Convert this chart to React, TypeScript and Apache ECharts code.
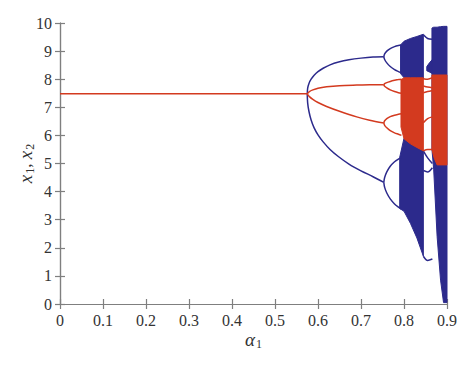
import React, { useEffect, useRef } from "react";
import * as echarts from "echarts";

// ---------- data ----------
const xTicks = [0, 0.1, 0.2, 0.3, 0.4, 0.5, 0.6, 0.7, 0.8, 0.9];
const yTicks = [0, 1, 2, 3, 4, 5, 6, 7, 8, 9, 10];

// period-1 fixed point (x1 = x2)
const fixedA = [0, 0.575];
const fixedY = [7.48, 7.48];

// period-2 branches
const blueP2UpA = [0.575, 0.576, 0.579, 0.584, 0.591, 0.6, 0.612, 0.628, 0.648, 0.672, 0.7, 0.728, 0.753];
const blueP2UpY = [7.48, 7.68, 7.85, 8.0, 8.14, 8.27, 8.39, 8.51, 8.61, 8.69, 8.75, 8.79, 8.8];
const blueP2LoA = [0.575, 0.576, 0.579, 0.584, 0.591, 0.6, 0.612, 0.628, 0.648, 0.672, 0.7, 0.728, 0.753];
const blueP2LoY = [7.48, 7.15, 6.85, 6.55, 6.27, 6.02, 5.77, 5.5, 5.24, 4.98, 4.74, 4.53, 4.33];
const redP2UpA = [0.575, 0.58, 0.588, 0.6, 0.62, 0.65, 0.69, 0.72, 0.753];
const redP2UpY = [7.48, 7.56, 7.62, 7.68, 7.73, 7.77, 7.79, 7.8, 7.8];
const redP2LoA = [0.575, 0.58, 0.588, 0.6, 0.62, 0.65, 0.69, 0.72, 0.753];
const redP2LoY = [7.48, 7.38, 7.28, 7.17, 7.03, 6.86, 6.66, 6.54, 6.44];

// period-4 bubbles
const bubbleA = [0.753, 0.755, 0.76, 0.768, 0.778, 0.787, 0.794];
const blueB1UpY = [8.8, 8.9, 9.0, 9.09, 9.16, 9.2, 9.22];
const blueB1LoY = [8.8, 8.7, 8.58, 8.45, 8.34, 8.27, 8.22];
const redB1UpY = [7.8, 7.84, 7.88, 7.92, 7.96, 7.99, 8.0];
const redB1LoY = [7.8, 7.75, 7.69, 7.62, 7.56, 7.52, 7.5];
const redB2UpY = [6.44, 6.52, 6.6, 6.67, 6.72, 6.75, 6.77];
const redB2LoY = [6.44, 6.36, 6.27, 6.17, 6.09, 6.04, 6.0];
const blueB2UpY = [4.33, 4.5, 4.7, 4.9, 5.06, 5.16, 5.22];
const blueB2LoY = [4.33, 4.15, 3.95, 3.74, 3.56, 3.45, 3.38];

// chaotic bands (alpha, lower edge, upper edge)
const blueTopBandA = [0.792, 0.8, 0.815, 0.83, 0.845];
const blueTopBandLo = [8.2, 8.05, 8.0, 8.0, 8.0];
const blueTopBandHi = [9.22, 9.35, 9.45, 9.52, 9.6];

const redLeftBandA = [0.793, 0.8, 0.815, 0.83, 0.845];
const redLeftBandLo = [6.3, 5.88, 5.7, 5.57, 5.45];
const redLeftBandHi = [7.98, 8.05, 8.05, 8.05, 8.05];

const blueLowBandA = [0.79, 0.8, 0.815, 0.83, 0.845];
const blueLowBandLo = [3.4, 3.3, 2.87, 2.35, 1.7];
const blueLowBandHi = [5.22, 5.9, 5.75, 5.6, 5.45];

const blueRightBandA = [0.865, 0.869, 0.877, 0.885, 0.892, 0.9];
const blueRightBandLo = [5.5, 4.8, 2.4, 0.85, 0.05, 0.05];
const blueRightBandHi = [9.82, 9.85, 9.85, 9.87, 9.88, 9.88];

const blueIslandA = [0.853, 0.86, 0.866];
const blueIslandLo = [8.3, 8.25, 8.2];
const blueIslandHi = [8.45, 8.6, 8.7];

const redRightBandA = [0.865, 0.87, 0.877, 0.9];
const redRightBandLo = [5.5, 5.2, 4.95, 4.95];
const redRightBandHi = [8.15, 8.15, 8.15, 8.15];

// periodic window lines (0.845 - 0.866)
const windowA = [0.845, 0.855, 0.866];
const redWin1Y = [8.02, 8.0, 8.05];
const redWin2Y = [7.76, 7.72, 7.7];
const redWin3Y = [7.52, 7.56, 7.6];
const redWin4Y = [6.45, 6.6, 6.66];
const redWin5Y = [5.45, 5.5, 5.5];
const blueWin1Y = [9.58, 9.45, 9.42];
const blueWin2Y = [5.45, 5.2, 5.0];
const blueWin3Y = [4.75, 4.7, 4.85];
const blueWin4Y = [1.7, 1.55, 1.6];

const BLUE = "#2c2a8c";
const RED = "#d33a1f";
const AXIS = "#7f7f7f";
const TEXT = "#333333";
const SERIF = "Liberation Serif";

type Line = { a: number[]; y: number[]; color: string };
type Band = { a: number[]; lo: number[]; hi: number[]; color: string };

const blueLines: Line[] = [
  { a: blueP2UpA, y: blueP2UpY, color: BLUE },
  { a: blueP2LoA, y: blueP2LoY, color: BLUE },
  { a: bubbleA, y: blueB1UpY, color: BLUE },
  { a: bubbleA, y: blueB1LoY, color: BLUE },
  { a: bubbleA, y: blueB2UpY, color: BLUE },
  { a: bubbleA, y: blueB2LoY, color: BLUE },
  { a: windowA, y: blueWin1Y, color: BLUE },
  { a: windowA, y: blueWin2Y, color: BLUE },
  { a: windowA, y: blueWin3Y, color: BLUE },
  { a: windowA, y: blueWin4Y, color: BLUE },
];
const redLines: Line[] = [
  { a: fixedA, y: fixedY, color: RED },
  { a: redP2UpA, y: redP2UpY, color: RED },
  { a: redP2LoA, y: redP2LoY, color: RED },
  { a: bubbleA, y: redB1UpY, color: RED },
  { a: bubbleA, y: redB1LoY, color: RED },
  { a: bubbleA, y: redB2UpY, color: RED },
  { a: bubbleA, y: redB2LoY, color: RED },
  { a: windowA, y: redWin1Y, color: RED },
  { a: windowA, y: redWin2Y, color: RED },
  { a: windowA, y: redWin3Y, color: RED },
  { a: windowA, y: redWin4Y, color: RED },
  { a: windowA, y: redWin5Y, color: RED },
];
const blueBands: Band[] = [
  { a: blueTopBandA, lo: blueTopBandLo, hi: blueTopBandHi, color: BLUE },
  { a: blueLowBandA, lo: blueLowBandLo, hi: blueLowBandHi, color: BLUE },
  { a: blueRightBandA, lo: blueRightBandLo, hi: blueRightBandHi, color: BLUE },
  { a: blueIslandA, lo: blueIslandLo, hi: blueIslandHi, color: BLUE },
];
const redBands: Band[] = [
  { a: redLeftBandA, lo: redLeftBandLo, hi: redLeftBandHi, color: RED },
  { a: redRightBandA, lo: redRightBandLo, hi: redRightBandHi, color: RED },
];

function lineSeries(l: Line, z: number) {
  return {
    type: "line",
    data: l.a.map((a, i) => [a, l.y[i]]),
    smooth: 0.3,
    showSymbol: false,
    symbol: "none",
    lineStyle: { color: l.color, width: 1.5 },
    z,
    silent: true,
  };
}

function bandSeries(b: Band, z: number) {
  return {
    type: "custom",
    data: [[b.a[0], b.lo[0]]],
    z,
    silent: true,
    renderItem: (_p: any, api: any) => {
      const top = b.a.map((a, i) => api.coord([a, b.hi[i]]));
      const bot = b.a.map((a, i) => api.coord([a, b.lo[i]])).reverse();
      return {
        type: "polygon",
        shape: { points: [...top, ...bot] },
        style: { fill: b.color, stroke: b.color, lineWidth: 1 },
      };
    },
  };
}

const axisCommon = {
  axisLine: { show: true, lineStyle: { color: AXIS, width: 1.2 } },
  axisTick: { show: true, inside: true, length: 5, lineStyle: { color: AXIS, width: 1.2 } },
  splitLine: { show: false },
};

export default function App() {
  const ref = useRef<HTMLDivElement>(null);
  useEffect(() => {
    if (!ref.current) return;
    const chart = echarts.init(ref.current, undefined, { renderer: "svg" });
    const series: any[] = [
      ...blueBands.map((b) => bandSeries(b, 1)),
      ...blueLines.map((l) => lineSeries(l, 2)),
      ...redBands.map((b) => bandSeries(b, 3)),
      ...redLines.map((l) => lineSeries(l, 4)),
    ];
    chart.setOption({
      animation: false,
      backgroundColor: "#ffffff",
      textStyle: { fontFamily: SERIF },
      grid: { left: 60, right: 27, top: 23, bottom: 62 },
      xAxis: [
        {
          type: "value",
          min: xTicks[0],
          max: xTicks[xTicks.length - 1],
          interval: 0.1,
          ...axisCommon,
          axisLabel: {
            color: TEXT,
            fontFamily: SERIF,
            fontSize: 16,
            margin: 8,
            formatter: (v: number) => (v === 0 ? "0" : v.toFixed(1)),
          },
          name: "{i|α}{s|1}",
          nameLocation: "middle",
          nameGap: 24,
          nameMoveOverlap: false,
          nameTextStyle: {
            fontFamily: SERIF,
            rich: {
              i: { fontFamily: SERIF, fontStyle: "italic", fontSize: 19, color: TEXT, lineHeight: 22 },
              s: { fontFamily: SERIF, fontSize: 12, color: TEXT, verticalAlign: "bottom", lineHeight: 22, padding: [8, 0, 0, 1] },
            },
          },
        },
        {
          type: "value",
          position: "top",
          min: xTicks[0],
          max: xTicks[xTicks.length - 1],
          interval: 0.1,
          ...axisCommon,
          axisLabel: { show: false },
        },
      ],
      yAxis: [
        {
          type: "value",
          min: yTicks[0],
          max: yTicks[yTicks.length - 1],
          interval: 1,
          ...axisCommon,
          axisLabel: { color: TEXT, fontFamily: SERIF, fontSize: 16, margin: 8 },
          name: "{i|x}{s|1}{n|, }{i|x}{s|2}",
          nameLocation: "middle",
          nameGap: 24,
          nameMoveOverlap: false,
          nameTextStyle: {
            fontFamily: SERIF,
            rich: {
              i: { fontFamily: SERIF, fontStyle: "italic", fontSize: 19, color: TEXT, lineHeight: 22 },
              n: { fontFamily: SERIF, fontSize: 17, color: TEXT, lineHeight: 22 },
              s: { fontFamily: SERIF, fontSize: 12, color: TEXT, verticalAlign: "bottom", lineHeight: 22, padding: [8, 0, 0, 1] },
            },
          },
        },
        {
          type: "value",
          position: "right",
          min: yTicks[0],
          max: yTicks[yTicks.length - 1],
          interval: 1,
          ...axisCommon,
          axisLabel: { show: false },
        },
      ],
      series,
    });
    return () => chart.dispose();
  }, []);
  return <div ref={ref} style={{ width: 474, height: 366, position: "absolute", left: 0, top: 0 }} />;
}
